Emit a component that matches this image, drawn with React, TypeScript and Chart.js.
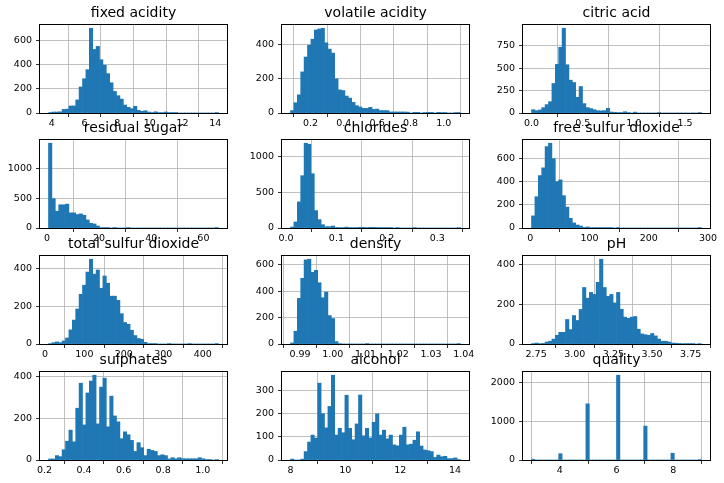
import React, { useEffect, useRef } from "react";
import { Chart, registerables } from "chart.js";

Chart.register(...registerables);

// ---------- data ----------
const titles = [
  "fixed acidity", "volatile acidity", "citric acid",
  "residual sugar", "chlorides", "free sulfur dioxide",
  "total sulfur dioxide", "density", "pH",
  "sulphates", "alcohol", "quality",
];

// data range (bin edges span min..max, 50 bins)
const binMin = [3.8, 0.08, 0.0, 0.6, 0.009, 2, 9, 0.98711, 2.72, 0.22, 8.0, 3];
const binMax = [14.2, 1.1, 1.66, 65.8, 0.346, 289, 440, 1.03898, 3.82, 1.08, 14.2, 9];

const fixedAcidity = [
  4, 8, 8, 10, 30, 32, 58, 58, 108, 215,
  283, 358, 700, 525, 550, 440, 395, 325, 250, 178,
  143, 115, 66, 47, 36, 55, 22, 14, 19, 8,
  4, 10, 2, 2, 8, 1, 1, 1, 0, 0,
  0, 0, 0, 0, 0, 0, 0, 0, 0, 1,
];
const volatileAcidity = [
  14, 60, 106, 240, 327, 396, 431, 485, 491, 495,
  410, 373, 350, 199, 135, 131, 99, 87, 62, 43,
  35, 27, 27, 33, 21, 23, 14, 14, 14, 6,
  6, 6, 6, 6, 5, 0, 4, 4, 0, 1,
  4, 4, 0, 4, 1, 3, 0, 0, 1, 3,
];
const citricAcid = [
  37, 26, 34, 60, 94, 127, 330, 544, 735, 948,
  540, 367, 341, 176, 296, 105, 60, 49, 37, 26,
  24, 26, 52, 11, 8, 2, 2, 14, 2, 0,
  10, 0, 0, 0, 0, 0, 0, 1, 0, 0,
  0, 0, 0, 0, 0, 0, 0, 0, 0, 1,
];
const residualSugar = [
  1424, 492, 283, 390, 390, 401, 254, 254, 226, 237,
  215, 136, 79, 68, 34, 6, 2, 1, 0, 2,
  0, 0, 0, 1, 0, 0, 0, 0, 0, 0,
  0, 0, 0, 0, 0, 0, 0, 0, 0, 0,
  0, 0, 0, 0, 0, 0, 0, 0, 0, 1,
];
const chlorides = [
  14, 85, 368, 736, 1193, 1179, 764, 245, 118, 47,
  19, 19, 28, 9, 5, 4, 13, 4, 2, 2,
  10, 10, 5, 10, 10, 8, 2, 1, 1, 1,
  0, 1, 0, 0, 0, 0, 1, 0, 0, 0,
  0, 0, 0, 0, 0, 0, 0, 0, 0, 1,
];
const freeSulfurDioxide = [
  105, 271, 454, 521, 705, 734, 600, 402, 417, 280,
  181, 84, 44, 26, 17, 5, 9, 3, 3, 2,
  1, 3, 2, 1, 0, 1, 0, 0, 0, 0,
  0, 0, 0, 0, 0, 0, 0, 0, 0, 0,
  0, 0, 0, 0, 0, 0, 0, 0, 0, 1,
];
const totalSulfurDioxide = [
  2, 7, 11, 7, 16, 32, 75, 127, 186, 264,
  312, 382, 450, 371, 393, 296, 361, 323, 254, 254,
  232, 161, 114, 105, 73, 45, 29, 25, 9, 2,
  1, 1, 0, 0, 0, 1, 0, 0, 0, 0,
  0, 1, 0, 0, 0, 0, 0, 0, 0, 1,
];
const density = [
  8, 97, 346, 498, 638, 643, 544, 559, 465, 351,
  394, 216, 193, 18, 3, 0, 0, 0, 0, 0,
  0, 0, 2, 0, 0, 0, 0, 0, 0, 0,
  0, 0, 0, 0, 0, 0, 0, 0, 0, 0,
  0, 0, 0, 0, 0, 0, 0, 0, 0, 1,
];
const pH = [
  1, 5, 2, 3, 10, 14, 25, 44, 59, 59,
  124, 73, 144, 119, 175, 286, 232, 261, 251, 312,
  429, 286, 241, 251, 208, 261, 176, 136, 130, 136,
  139, 75, 51, 47, 44, 53, 41, 25, 14, 14,
  10, 5, 4, 3, 2, 1, 1, 1, 0, 2,
];
const sulphates = [
  5, 5, 21, 16, 49, 90, 143, 87, 248, 368,
  168, 321, 378, 406, 173, 349, 392, 159, 306, 211,
  183, 102, 135, 121, 94, 41, 83, 59, 21, 51,
  46, 41, 21, 25, 21, 5, 11, 6, 11, 6,
  6, 6, 6, 6, 11, 6, 1, 1, 0, 2,
];
const alcohol = [
  4, 0, 0, 4, 36, 77, 107, 94, 330, 199,
  138, 230, 364, 107, 136, 117, 278, 136, 87, 155,
  279, 104, 136, 95, 162, 198, 107, 128, 91, 107,
  65, 61, 107, 141, 65, 68, 85, 121, 60, 43,
  40, 36, 11, 21, 14, 16, 6, 6, 9, 1,
];
const quality = [
  20, 0, 0, 0, 0, 0, 0, 0, 163, 0,
  0, 0, 0, 0, 0, 0, 1457, 0, 0, 0,
  0, 0, 0, 0, 0, 2198, 0, 0, 0, 0,
  0, 0, 0, 880, 0, 0, 0, 0, 0, 0,
  0, 175, 0, 0, 0, 0, 0, 0, 0, 5,
];

const counts = [
  fixedAcidity, volatileAcidity, citricAcid,
  residualSugar, chlorides, freeSulfurDioxide,
  totalSulfurDioxide, density, pH,
  sulphates, alcohol, quality,
];

const xTickValues = [
  [4, 6, 8, 10, 12, 14],
  [0.2, 0.4, 0.6, 0.8, 1.0],
  [0, 0.5, 1.0, 1.5],
  [0, 20, 40, 60],
  [0, 0.1, 0.2, 0.3],
  [0, 100, 200, 300],
  [0, 100, 200, 300, 400],
  [0.99, 1.0, 1.01, 1.02, 1.03, 1.04],
  [2.75, 3.0, 3.25, 3.5, 3.75],
  [0.2, 0.4, 0.6, 0.8, 1.0],
  [8, 10, 12, 14],
  [4, 6, 8],
];
const xTickLabels = [
  ["4", "6", "8", "10", "12", "14"],
  ["0.2", "0.4", "0.6", "0.8", "1.0"],
  ["0.0", "0.5", "1.0", "1.5"],
  ["0", "20", "40", "60"],
  ["0.0", "0.1", "0.2", "0.3"],
  ["0", "100", "200", "300"],
  ["0", "100", "200", "300", "400"],
  ["0.99", "1.00", "1.01", "1.02", "1.03", "1.04"],
  ["2.75", "3.00", "3.25", "3.50", "3.75"],
  ["0.2", "0.4", "0.6", "0.8", "1.0"],
  ["8", "10", "12", "14"],
  ["4", "6", "8"],
];
const yTickValues = [
  [0, 200, 400, 600],
  [0, 200, 400],
  [0, 250, 500, 750],
  [0, 500, 1000],
  [0, 500, 1000],
  [0, 200, 400, 600],
  [0, 200, 400],
  [0, 200, 400, 600],
  [0, 200, 400],
  [0, 200, 400],
  [0, 100, 200, 300],
  [0, 1000, 2000],
];

// ---------- layout ----------
const COL_LEFT = [40, 282, 523];
const ROW_TOP = [24, 139, 255, 371];
const PLOT_W = 187;
const PLOT_H = 89;
const Y_AXIS_W = 40;
const PAD_TOP = 24;
const PAD_RIGHT = 14;
const X_AXIS_H = 20;
const FONT = "DejaVu Sans";
const BAR_COLOR = "#1f77b4";
const GRID_COLOR = "#b0b0b0";

function framePlugin(title: string) {
  return {
    id: "frameTitle",
    afterDraw(chart: any) {
      const { ctx, chartArea: a } = chart;
      ctx.save();
      ctx.strokeStyle = "#000";
      ctx.lineWidth = 1;
      ctx.strokeRect(a.left - 0.5, a.top + 0.5, a.right - a.left + 1, a.bottom - a.top);
      ctx.fillStyle = "#000";
      ctx.font = `14px "${FONT}"`;
      ctx.textAlign = "center";
      ctx.textBaseline = "alphabetic";
      ctx.fillText(title, (a.left + a.right) / 2, a.top - 7);
      ctx.restore();
    },
  };
}

function Panel({ idx }: { idx: number }) {
  const ref = useRef<HTMLCanvasElement | null>(null);
  const col = idx % 3;
  const row = Math.floor(idx / 3);
  const left = COL_LEFT[col] - Y_AXIS_W;
  const top = ROW_TOP[row] - PAD_TOP;
  const width = Y_AXIS_W + PLOT_W + PAD_RIGHT;
  const height = PAD_TOP + PLOT_H + X_AXIS_H;

  useEffect(() => {
    if (!ref.current) return;
    const lo = binMin[idx];
    const hi = binMax[idx];
    const vals = counts[idx];
    const n = vals.length;
    const w = (hi - lo) / n;
    const span = hi - lo;
    const maxCount = Math.max(...vals);
    const xt = xTickValues[idx];
    const xl = xTickLabels[idx];
    const yt = yTickValues[idx];
    const tickFont = { family: FONT, size: 9.5 };

    const chart = new Chart(ref.current, {
      type: "bar",
      data: {
        datasets: [
          {
            data: vals.map((c, i) => ({ x: lo + (i + 0.5) * w, y: c })),
            backgroundColor: BAR_COLOR,
            borderWidth: 0,
            barPercentage: 1,
            categoryPercentage: 1,
          } as any,
        ],
      },
      options: {
        animation: false,
        responsive: false,
        maintainAspectRatio: false,
        layout: { padding: { top: PAD_TOP, right: PAD_RIGHT, left: 0, bottom: 0 } },
        plugins: {
          legend: { display: false },
          tooltip: { enabled: false },
          title: { display: false },
        },
        scales: {
          x: {
            type: "linear",
            min: lo - 0.05 * span,
            max: hi + 0.05 * span,
            offset: false,
            z: 1,
            afterBuildTicks: (s: any) => {
              s.ticks = xt.map((v) => ({ value: v }));
            },
            afterFit: (s: any) => {
              s.height = X_AXIS_H;
            },
            ticks: {
              autoSkip: false,
              maxRotation: 0,
              minRotation: 0,
              padding: 1,
              color: "#000",
              font: tickFont,
              callback: (_v: any, i: number) => xl[i],
            },
            grid: {
              color: GRID_COLOR,
              lineWidth: 0.8,
              tickColor: "#000",
              tickLength: 4,
              drawTicks: true,
            },
            border: { display: false },
          },
          y: {
            type: "linear",
            min: 0,
            max: maxCount * 1.05,
            z: 1,
            afterBuildTicks: (s: any) => {
              s.ticks = yt.map((v) => ({ value: v }));
            },
            afterFit: (s: any) => {
              s.width = Y_AXIS_W;
            },
            ticks: {
              autoSkip: false,
              padding: 4,
              color: "#000",
              font: tickFont,
              callback: (_v: any, i: number) => String(yt[i]),
            },
            grid: {
              color: GRID_COLOR,
              lineWidth: 0.8,
              tickColor: "#000",
              tickLength: 4,
              drawTicks: true,
            },
            border: { display: false },
          },
        },
      } as any,
      plugins: [framePlugin(titles[idx])],
    });
    return () => chart.destroy();
  }, [idx]);

  return (
    <canvas
      ref={ref}
      width={width}
      height={height}
      style={{ position: "absolute", left, top, width, height }}
    />
  );
}

export default function App() {
  return (
    <div
      style={{
        position: "absolute",
        left: 0,
        top: 0,
        width: 724,
        height: 483,
        background: "#fff",
        overflow: "hidden",
      }}
    >
      {titles.map((_, i) => (
        <Panel key={i} idx={i} />
      ))}
    </div>
  );
}
